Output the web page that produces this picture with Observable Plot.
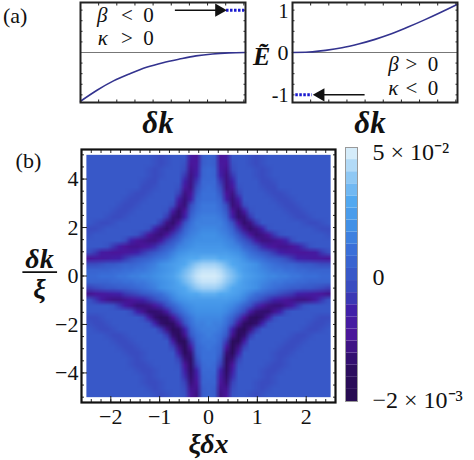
<!DOCTYPE html>
<html><head><meta charset="utf-8">
<script src="https://cdn.jsdelivr.net/npm/d3@7"></script>
<script src="https://cdn.jsdelivr.net/npm/@observablehq/plot@0.6"></script>
<style>html,body{margin:0;padding:0;background:#fff}#c{position:relative;width:474px;height:460px;overflow:hidden}#c svg{position:absolute;max-width:none;overflow:visible;background:transparent}</style>
</head><body><div id="c"></div>
<script>
const dk = [0,.1,.2,.3,.4,.5,.6,.7,.8,.9,1];
const energyLeft = [-1.15,-.89,-.67,-.5,-.35,-.24,-.155,-.08,-.035,-.01,0];
const energyRight = [0,.01,.05,.11,.2,.31,.44,.6,.77,.95,1.14];
const colorLevels = [0,2,3,5,7,8,9,10,12,14,16,18,20];
const colorStops = ["#270b52","#2c0d5e","#330f70","#4a169a","#4020a8","#3b38b4","#3a4cc0","#3858c8","#3a6fd8","#4190e6","#52a8f0","#8fc8f4","#d5ecfa"];
const barLevels = d3.range(21);
const colorbarTicks = [20.6,10.25,0.1];
const colorbarLabels = ["5 × 10⁻²","0","−2 × 10⁻³"];
// heat levels, columns x = 0 … 2.5 (left side mirrors), rows y = 5 … 0
const upper = [
[11,10.5,5,6,10,10,10,9.5,9,9.5,10,10,10,10,10,10,10,10,10,10,10],
[11,10.5,5.5,5,9.5,10,10,9.5,9,9.5,10,10,10,10,10,10,10,10,10,10,10],
[11.5,11,6,4.5,9,10,10,10,9.5,9,9.5,10,10,10,10,10,10,10,10,10,10],
[11.5,11,7,4,8,10,10,10,9.5,9,9.5,10,10,10,10,10,10,10,10,10,10],
[11.5,11.5,8,4,7,10,10,10,10,9,9,9.5,10,10,10,10,10,10,10,10,10],
[12,11.5,9,4,5.5,9.5,10,10,10,9.5,9,9,10,10,10,10,10,10,10,10,10],
[12,12,10,5,4,8.5,10,10,10,10,9.5,9,9,9.5,10,10,10,10,10,10,10],
[12,12,11,6.5,3.5,6.5,10,10,10,10,10,9.5,9,9,9.5,10,10,10,10,10,10],
[12.5,12.5,11.5,9,3.5,4.5,9,10,10,10,10,10,9.5,9,9,9.5,10,10,10,10,10],
[12.5,12.5,12,10,5,3,6,9.5,10,10,10,10,10,9.5,9,9,9.5,10,10,10,10],
[13,13,12.5,11,7,3,3.5,8,10,10,10,10,10,10,9.5,9,9,9.5,10,10,10],
[13,13,13,12,9.5,5,3,4,8,10,10,10,10,10,10,10,9.5,9,9,9.5,10],
[13.5,13.5,13,12.5,11,8,4.5,3,4,7,9.5,10,10,10,10,10,10,10,9.5,9,9],
[14,14,13.5,13,12,10,8,5,3.5,4,5,8,9.5,10,10,10,10,10,10,10,9.5],
[14,14,14,13.5,13,11.5,10,8.5,6,4,4,4.5,5,7,9,10,10,10,10,10,10],
[14.5,14.5,14.5,14,13.5,13,11.5,10.5,9,7.5,6,5,4.5,4.5,5,6.5,8,9.5,10,10,10],
[15,15,15,15,14.5,14,13,12,11,10,9,8,7,6,5.5,5,5,5.5,6,8,9],
[16.5,16.5,16,16,15.5,15,14,13,12.5,12,11,10.5,10,9,8,7,6.5,6,5.5,5.5,5],
[18.5,18.5,18,17,16,15.5,15,14.5,14,13,12.5,12,11.5,11,11,10.5,10,10,9.5,9,9],
[19.5,19.5,19,18,17,16,15,14.5,14,13.5,13,12.5,12.5,12,12,11.5,11.5,11,11,11,11],
[20,20,19.5,18.5,17.5,16.5,15.5,15,14.5,14,13.5,13.5,13,13,12.5,12.5,12,12,12,11.5,11.5]];
// rows y = -0.25 … -5
const lower = [
[19.5,19.5,19,18,17,16,15,14.5,14,13.5,13,12.5,12.5,12,12,11.5,11.5,11,11,11,11],
[18.5,18.5,18,17,16,15.5,15,14.5,14,13,12.5,12,11.5,11,10.5,10.5,10,10,9.5,9,8.5],
[16.5,16.5,16,16,15.5,15,14,13,12,11.5,10.5,10,9,8.5,8,7,6.5,6,5.5,5,4.5],
[15,15,15,15,14.5,14,13,11.5,10.5,9,8,7,6,5,4.5,4,4,4.5,6,8,9.5],
[14.5,14.5,14.5,14,13.5,12.5,11,9.5,7.5,5.5,4,3.5,3.5,4.5,6,8,9.5,10,10,10,10],
[14,14,14,13.5,12.5,11,9,6,3.5,3,3,4.5,7,9,10,10,10,10,10,10,10],
[13.5,13.5,13.5,12.5,11,8.5,5,2.5,2,3,6,9,10,10,10,10,10,10,9.5,9,9],
[13.5,13,13,12,9.5,5.5,2.5,2,3,7,9.5,10,10,10,10,10,10,9.5,9,9,9.5],
[13,13,12.5,11,7,2.5,1.5,4,8,10,10,10,10,10,10,10,9.5,9,9,9.5,10],
[13,12.5,12,10,4.5,1.5,3,8,10,10,10,10,10,10,9.5,9,9,9.5,10,10,10],
[12.5,12.5,11.5,8,2,2,6,10,10,10,10,10,10,9.5,9,9,9.5,10,10,10,10],
[12.5,12,11,5.5,1.5,4,8.5,10,10,10,10,10,9.5,9,9,9.5,10,10,10,10,10],
[12,12,10.5,3.5,2,6.5,10,10,10,10,10,9.5,9,9,9.5,10,10,10,10,10,10],
[12,12,9.5,2.5,3.5,8.5,10,10,10,10,10,9.5,9,9.5,10,10,10,10,10,10,10],
[12,11.5,8.5,2.5,5,9.5,10,10,10,10,9.5,9,9,9.5,10,10,10,10,10,10,10],
[11.5,11.5,7,2.5,6.5,10,10,10,10,9.5,9,9,9.5,10,10,10,10,10,10,10,10],
[11.5,11,6,3,7.5,10,10,10,10,9.5,9,9.5,10,10,10,10,10,10,10,10,10],
[11,11,5,3.5,8.5,10,10,10,9.5,9,9,9.5,10,10,10,10,10,10,10,10,10],
[11,10.5,4.5,4.5,9,10,10,10,9.5,9,9.5,10,10,10,10,10,10,10,10,10,10],
[11,10.5,4,5,9.5,10,10,9.5,9,9.5,10,10,10,10,10,10,10,10,10,10,10]];
const heatXTicks = [-2,-1,0,1,2];
const heatYTicks = [-4,-2,0,2,4];
const heatXMinor = d3.range(-2.4,2.5,.2);
const heatYMinor = d3.range(-5,5.01,.5);
const panelMinorX = d3.range(0,1.001,.11);
const panelMinorY = d3.range(-1,1.01,.25);
const energyTicks = [-1,0,1];

const serif = "'Liberation Serif', serif";
const color = {type:"linear",domain:colorLevels,range:colorStops,clamp:true};
const root = document.getElementById("c");
function place(p,l,t){p.style.left=l+"px";p.style.top=t+"px";root.appendChild(p);}
const rows = upper.concat(lower);
const grid = rows.flatMap(r => r.slice(1).reverse().concat(r));
const xf = ()=>"";
function word(list){ // [text,x,y,style,size,weight]
  return list.map(([t,x,y,s,z,w]) => Plot.text([t],{text:d=>d,x:()=>x,y:()=>y,textAnchor:"start",fontStyle:s,fontSize:z,fontWeight:w,fontFamily:serif,fill:"#111"}));
}
function frameTicks(xs,ys,size){
  const a = {tickFormat:xf,label:null,tickSize:-size,stroke:"#222"};
  return [
    Plot.axisX({...a,ticks:xs,anchor:"bottom"}),Plot.axisX({...a,ticks:xs,anchor:"top"}),
    Plot.axisY({...a,ticks:ys,anchor:"left"}),Plot.axisY({...a,ticks:ys,anchor:"right"})
  ];
}
const baseStyle = {fontFamily:serif,fontSize:"22px",background:"transparent",color:"#111"};

function panel(values, opts){
  return Plot.plot({width:opts.l+165+5,height:140,marginLeft:opts.l,marginRight:5,marginTop:2,marginBottom:38,
    style:baseStyle,
    x:{domain:[0,1]},y:{domain:[-1.18,1.18]},
    marks:[
      ...frameTicks(panelMinorX,panelMinorY,2.5),
      Plot.ruleY([0],{stroke:"#777",strokeWidth:1}),
      Plot.line(dk,{x:d=>d,y:(d,i)=>values[i],stroke:"#33338f",strokeWidth:1.6,curve:"catmull-rom"}),
      Plot.ruleY(opts.dot,{x1:opts.dotX[0],x2:opts.dotX[1],y:d=>d,stroke:"#1a1ad0",strokeWidth:3,strokeDasharray:"2.5,1.5"}),
      Plot.ruleY(opts.dot,{x1:opts.arrow[0],x2:opts.arrow[1],y:d=>d,stroke:"#111",strokeWidth:1.5}),
      Plot.dot(opts.dot,{x:()=>opts.arrow[1],y:d=>d,symbol:"triangle",rotate:opts.arrow[1]>opts.arrow[0]?90:-90,r:5,fill:"#111",stroke:"none"}),
      ...(opts.extra||[]),
      ...word(opts.words),
      Plot.text(["δk"],{text:d=>d,x:()=>.47,y:()=>-1.18,dy:21,fontStyle:"italic",fontWeight:"bold",fontSize:31,fontFamily:serif,fill:"#111"}),
      Plot.frame({stroke:"#222",strokeWidth:2})
    ]});
}
place(panel(energyLeft,{l:80,dot:[1],dotX:[.885,.995],arrow:[.575,.84],words:[
  ["(a)",-.47,.86,"normal",22,"normal"],
  ["β",.1,.88,"italic",21,"normal"],["<\u20020",.245,.88,"normal",21,"normal"],
  ["κ",.105,.33,"italic",21,"normal"],[">\u20020",.245,.33,"normal",21,"normal"]]}),0,0);
place(panel(energyRight,{l:60,dot:[-1],dotX:[.02,.12],arrow:[.44,.17],
  extra:[Plot.axisY({ticks:[0],tickSize:0,tickPadding:4,label:null,anchor:"left",fontSize:22,tickFormat:d=>String(d)}),
         Plot.axisY({ticks:energyTicks.filter(d=>d),tickSize:0,tickPadding:4,label:null,anchor:"left",fontSize:20,dy:1,tickFormat:d=>d==-1?"-1":String(d)})],
  words:[["Ẽ",-.24,-.1,"italic",26,"bold"],
  ["β",.58,-.28,"italic",21,"normal"],[">\u20020",.685,-.28,"normal",21,"normal"],
  ["κ",.58,-.84,"italic",21,"normal"],["<\u20020",.685,-.84,"normal",21,"normal"]]}),232,0);

place(Plot.plot({width:340,height:320,marginLeft:81,marginRight:5,marginTop:9,marginBottom:58,
  style:baseStyle,
  x:{domain:[-2.6,2.6]},y:{domain:[-5.22,5.22]},color,
  marks:[
    Plot.raster(grid,{width:41,height:41,x1:-2.5,x2:2.5,y1:5,y2:-5,fill:d=>d,imageRendering:"auto"}),
    ...frameTicks(heatXMinor,heatYMinor,3),
    Plot.axisX({ticks:heatXTicks,tickSize:-6,tickPadding:12,label:null,anchor:"bottom",stroke:"#222",fontSize:22,tickFormat:d=>d<0?"−"+(-d):String(d)}),
    Plot.axisY({ticks:heatYTicks,tickSize:-6,tickPadding:9,label:null,anchor:"left",stroke:"#222",fontSize:22,tickFormat:d=>d<0?"−"+(-d):String(d)}),
    Plot.frame({stroke:"#111",strokeWidth:2.2}),
    ...word([["(b)",-3.95,4.75,"normal",22,"normal"]]),
    Plot.text(["δk"],{text:d=>d,x:()=>-3.46,y:()=>.72,fontStyle:"italic",fontWeight:"bold",fontSize:28,fontFamily:serif,fill:"#111"}),
    Plot.ruleY([.16],{x1:-3.8,x2:-3.09,stroke:"#111",strokeWidth:1.6}),
    Plot.text(["ξ"],{text:d=>d,x:()=>-3.46,y:()=>-.55,fontStyle:"italic",fontWeight:"bold",fontSize:28,fontFamily:serif,fill:"#111"}),
    Plot.text(["ξδx"],{text:d=>d,x:()=>0,y:()=>-5.22,dy:42,fontStyle:"italic",fontWeight:"bold",fontSize:28,fontFamily:serif,fill:"#111"})
  ]}),0,140);

place(Plot.plot({width:129,height:270,marginLeft:0,marginRight:117,marginTop:7,marginBottom:9,
  style:baseStyle,
  x:{domain:[0,1],axis:null},y:{domain:[0,21]},color,
  marks:[
    Plot.rect(barLevels,{x1:()=>0,x2:()=>1,y1:d=>d,y2:d=>d+1,fill:d=>d}),
    Plot.axisY({anchor:"right",ticks:colorbarTicks,tickSize:0,tickPadding:15,label:null,fontSize:24,tickFormat:d=>colorbarLabels[colorbarTicks.indexOf(d)]}),
    Plot.frame({stroke:"#999",strokeWidth:1})
  ]}),345,140);
</script></body></html>
